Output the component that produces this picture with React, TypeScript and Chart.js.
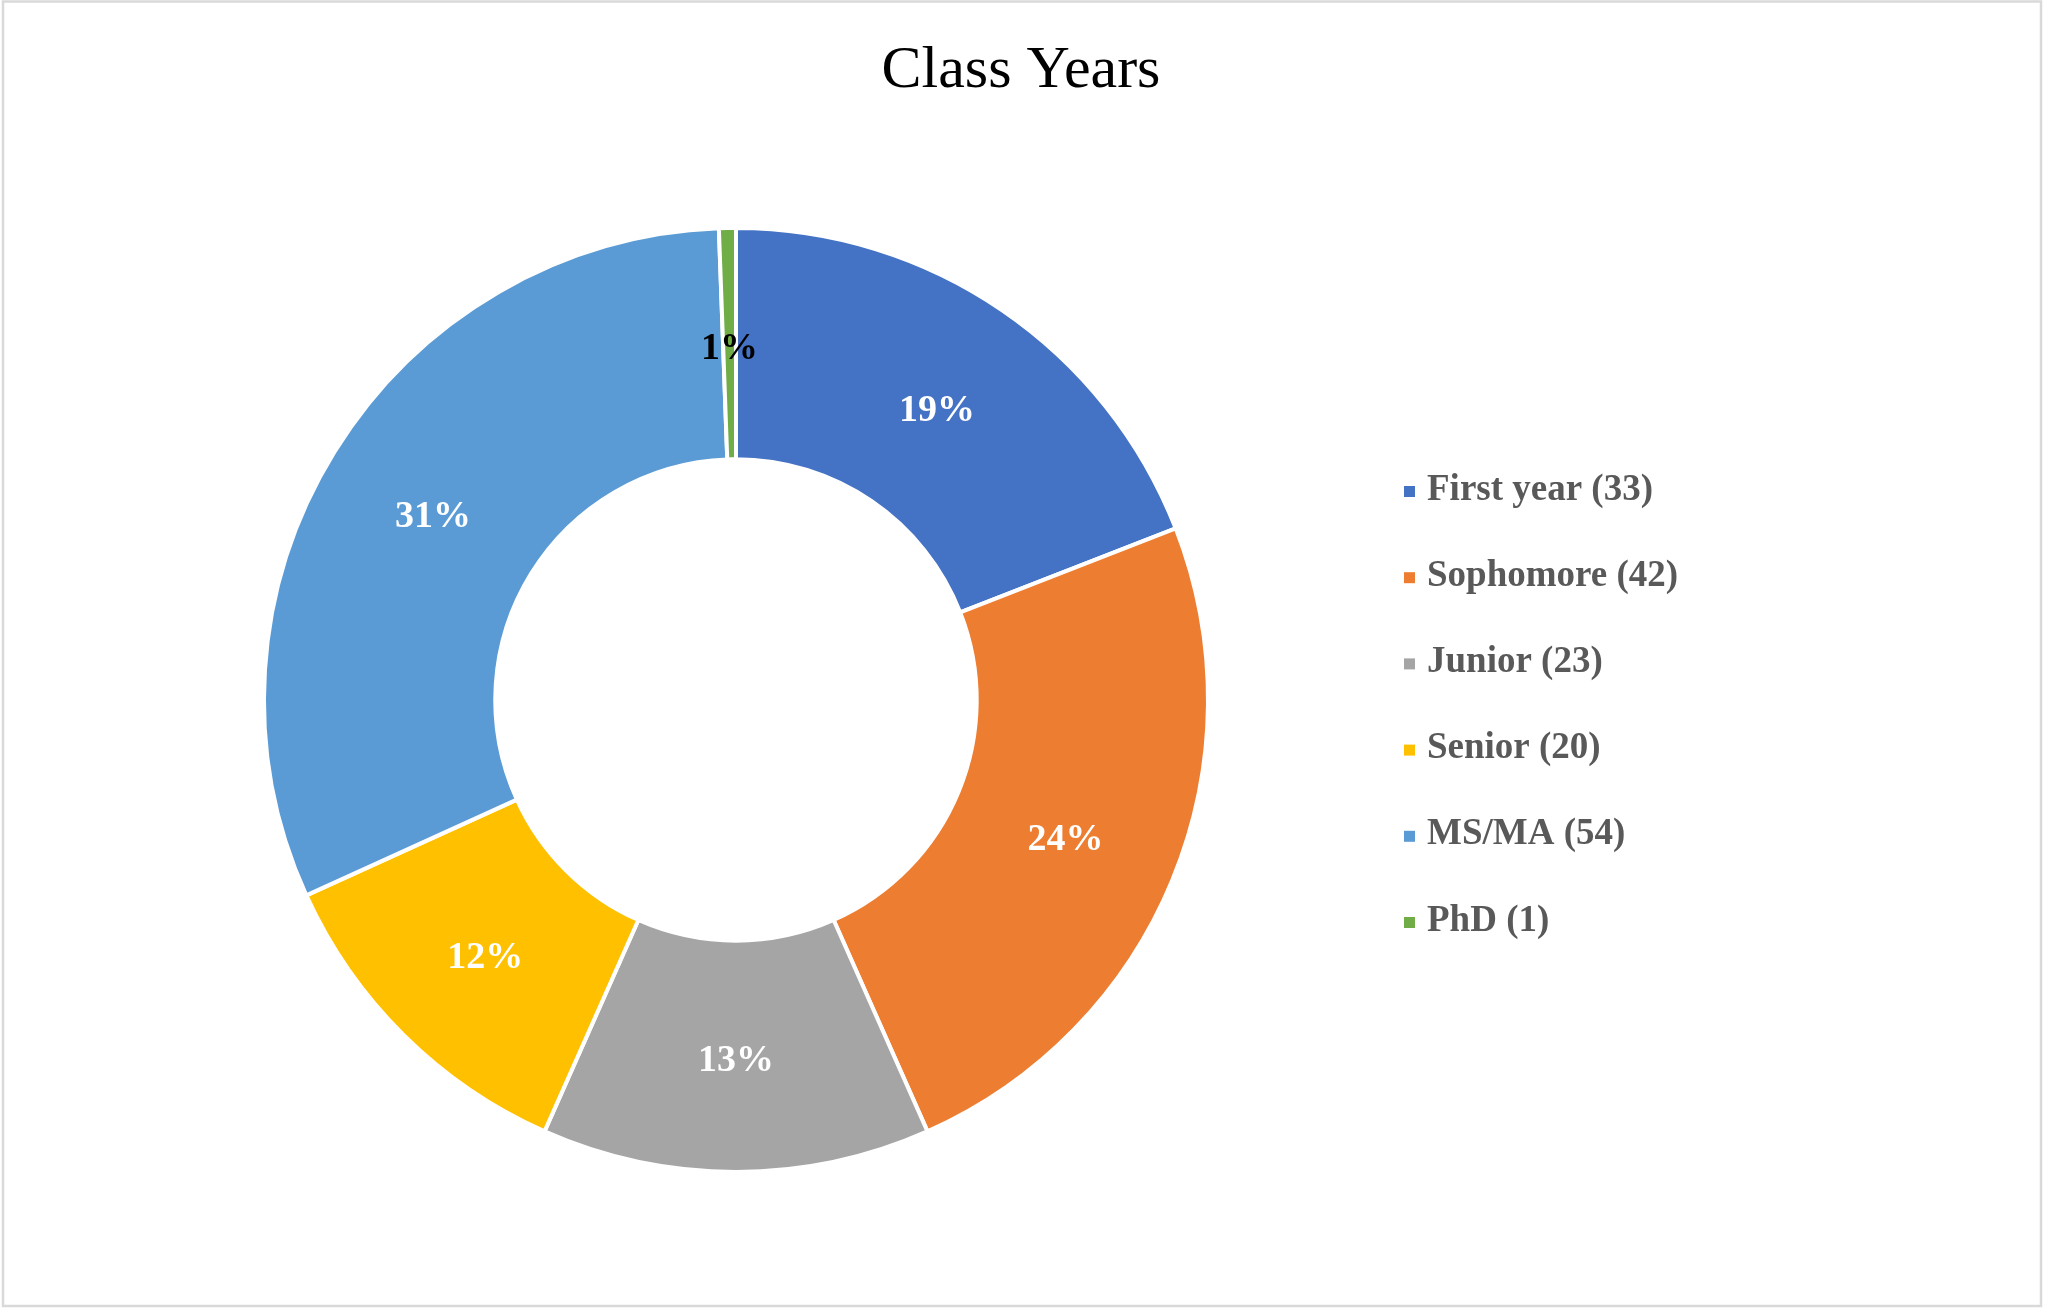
import React, { useEffect, useRef } from "react";
import { Chart, registerables } from "chart.js";

Chart.register(...registerables);

const categories = ["First year", "Sophomore", "Junior", "Senior", "MS/MA", "PhD"];
const counts = [33, 42, 23, 20, 54, 1];
const percentLabels = ["19%", "24%", "13%", "12%", "31%", "1%"];
const sliceColors = ["#4472C4", "#ED7D31", "#A5A5A5", "#FFC000", "#5B9BD5", "#70AD47"];
const labelColors = ["#FFFFFF", "#FFFFFF", "#FFFFFF", "#FFFFFF", "#FFFFFF", "#000000"];
const chartTitle = "Class Years";

const SERIF = '"Liberation Serif", "DejaVu Serif", serif';

const decorPlugin = {
  id: "decor",
  afterDraw(chart: any) {
    const ctx = chart.ctx;
    ctx.save();
    // outer frame
    ctx.strokeStyle = "#D9D9D9";
    ctx.lineWidth = 2.5;
    ctx.strokeRect(3, 1.5, 2038, 1304.5);

    // title
    ctx.fillStyle = "#000000";
    ctx.font = `400 60px ${SERIF}`;
    ctx.textAlign = "center";
    ctx.textBaseline = "middle";
    ctx.fillText(chartTitle, 1021, 71);

    // data labels
    const meta = chart.getDatasetMeta(0);
    ctx.font = `700 38px ${SERIF}`;
    meta.data.forEach((arc: any, i: number) => {
      const p = arc.tooltipPosition();
      ctx.fillStyle = labelColors[i];
      ctx.fillText(percentLabels[i], p.x, p.y + 5);
    });

    // legend
    ctx.textAlign = "left";
    ctx.font = `700 37px ${SERIF}`;
    categories.forEach((c, i) => {
      const y = 490 + i * 86.2;
      ctx.fillStyle = sliceColors[i];
      ctx.fillRect(1404, y - 4, 11, 11);
      ctx.fillStyle = "#595959";
      ctx.fillText(`${c} (${counts[i]})`, 1427, y);
    });
    ctx.restore();
  },
};

export default function App() {
  const ref = useRef<HTMLCanvasElement | null>(null);
  useEffect(() => {
    if (!ref.current) return;
    const chart = new Chart(ref.current, {
      type: "doughnut",
      data: {
        labels: categories,
        datasets: [
          {
            data: counts,
            backgroundColor: sliceColors,
            borderColor: "#FFFFFF",
            borderWidth: 4,
          },
        ],
      },
      options: {
        animation: false,
        responsive: false,
        cutout: "51%",
        layout: { padding: { left: 262, right: 838, top: 226, bottom: 139 } },
        plugins: {
          legend: { display: false },
          title: { display: false },
          tooltip: { enabled: false },
        },
      },
      plugins: [decorPlugin],
    });
    return () => chart.destroy();
  }, []);
  return (
    <div style={{ position: "fixed", left: 0, top: 0, width: 2048, height: 1313, background: "#fff" }}>
      <canvas ref={ref} width={2048} height={1313} style={{ width: 2048, height: 1313 }} />
    </div>
  );
}
